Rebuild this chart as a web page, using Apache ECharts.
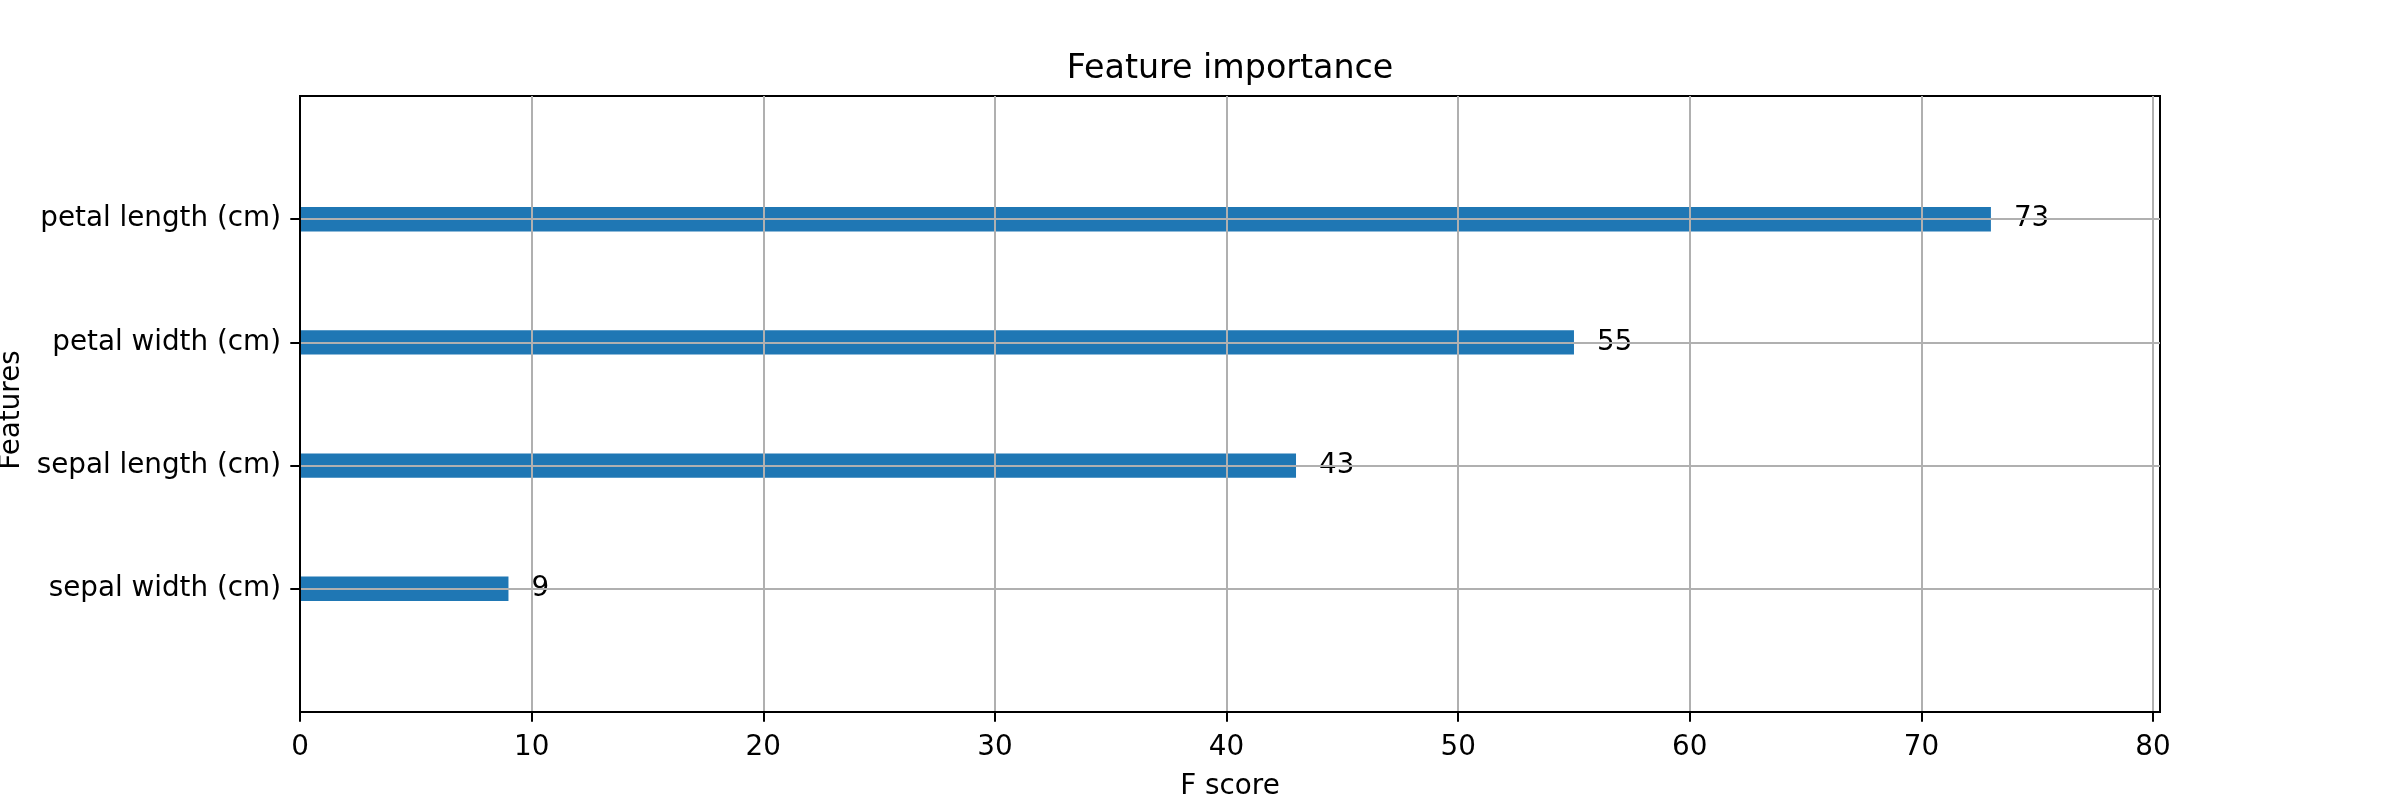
<!DOCTYPE html>
<html>
<head>
    <meta charset="utf-8"/>
    <script src="https://cdn.jsdelivr.net/npm/echarts@6/dist/echarts.min.js"></script>
    <style>
        html, body { margin: 0; padding: 0; background: #fff; }
        #container { width: 2400px; height: 800px; }
    </style>
</head>
<body>
<div id="container"></div>
<script type="text/javascript">
    // bottom to top, like the reference
    var features = ['sepal width (cm)', 'sepal length (cm)', 'petal width (cm)', 'petal length (cm)'];
    var scores = [9, 43, 55, 73];
    var xTicks = [0, 10, 20, 30, 40, 50, 60, 70, 80];

    // one empty slot under and over the bars, same as ylim (-1, n)
    var cats = [''].concat(features).concat(['']);
    var barData = [null].concat(scores).concat([null]);
    var xMax = Math.max.apply(null, scores) * 1.1;

    var font = 'DejaVu Sans';
    var fs = 27.8;
    var dom = document.getElementById("container");
    var myChart = echarts.init(dom);
    var option = {
        animation: false,
        backgroundColor: '#fff',
        title: {
            text: 'Feature importance',
            left: 1230,
            textAlign: 'center',
            top: 53,
            padding: 0,
            textStyle: {fontFamily: font, fontSize: 33.3, fontWeight: 'normal', color: '#000'}
        },
        grid: {
            left: 300,
            right: 240,
            top: 96,
            bottom: 88,
            outerBoundsMode: 'none',
            containLabel: false,
            show: true,
            borderColor: '#000',
            borderWidth: 2
        },
        xAxis: {
            type: 'value',
            min: 0,
            max: xMax,
            interval: 10,
            z: 3,
            name: 'F score',
            nameLocation: 'middle',
            nameGap: 61,
            nameTextStyle: {fontFamily: font, fontSize: fs, color: '#000'},
            axisLine: {show: true, lineStyle: {color: '#000', width: 2}},
            axisTick: {show: true, length: 9.7, lineStyle: {color: '#000', width: 2}, customValues: xTicks},
            axisLabel: {
                fontFamily: font, fontSize: fs, color: '#000', margin: 22,
                customValues: xTicks,
                formatter: function (v) { return v % 10 === 0 ? String(v) : ''; }
            },
            splitLine: {show: true, lineStyle: {color: '#b0b0b0', width: 2}}
        },
        yAxis: {
            type: 'category',
            data: cats,
            boundaryGap: false,
            z: 3,
            name: 'Features',
            nameLocation: 'middle',
            nameRotate: 90,
            nameGap: 271,
            nameTextStyle: {fontFamily: font, fontSize: fs, color: '#000', padding: [0, 12, 0, 0]},
            axisLine: {show: true, lineStyle: {color: '#000', width: 2}},
            axisTick: {
                show: true, length: 9.7, lineStyle: {color: '#000', width: 2},
                interval: function (i, v) { return v !== ''; }
            },
            axisLabel: {
                fontFamily: font, fontSize: fs, color: '#000', margin: 19,
                padding: [2, 0, 0, 0],
                interval: function (i, v) { return v !== ''; }
            },
            splitLine: {
                show: true, lineStyle: {color: '#b0b0b0', width: 2},
                interval: function (i, v) { return v !== ''; }
            }
        },
        series: [
            {
                type: 'bar',
                data: barData,
                barWidth: 24.4,
                z: 1,
                itemStyle: {color: '#1f77b4'},
                label: {
                    show: true,
                    position: 'right',
                    distance: 23,
                    fontFamily: font,
                    fontSize: fs,
                    color: '#000'
                }
            }
        ]
    };

    if (option && typeof option === "object") {
        myChart.setOption(option, true);
    }
</script>
</body>
</html>
